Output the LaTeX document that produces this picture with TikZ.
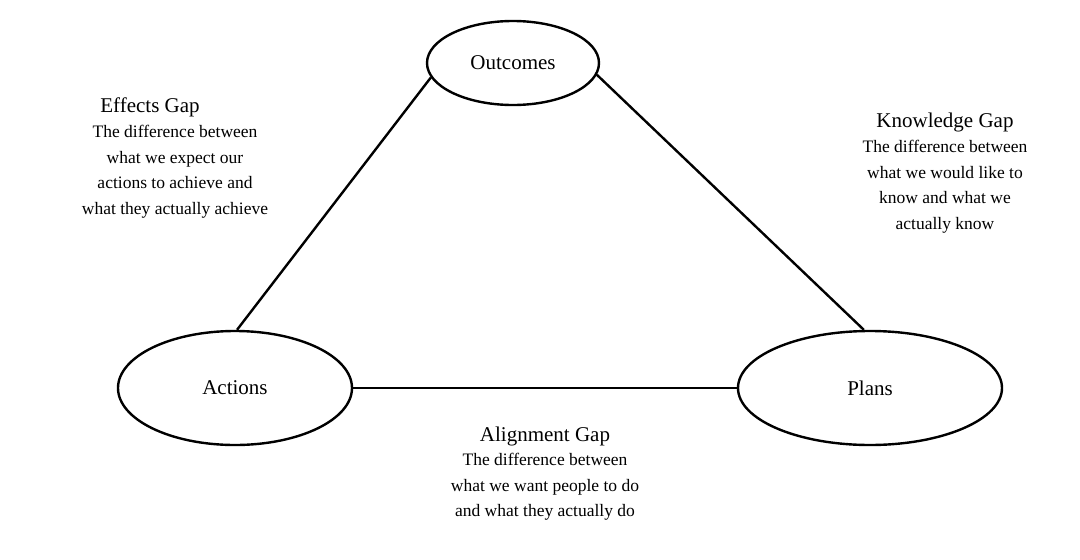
\documentclass[tikz,border=0pt]{standalone}
\usepackage{fontspec}
\setmainfont{Liberation Serif}
\usetikzlibrary{shapes.geometric}
\begin{document}
\begin{tikzpicture}[x=1pt,y=-1pt,
  oval/.style={draw,line width=2.4pt,ellipse,inner sep=0pt,font=\fontsize{21}{25}\selectfont},
  title/.style={font=\fontsize{21}{25}\selectfont,inner sep=0pt},
  body/.style={font=\fontsize{17.5}{25.5}\selectfont,align=center,inner sep=0pt},
  edge/.style={line width=2.4pt}]
\useasboundingbox (0,0) rectangle (1080,560);
\node[oval,minimum width=172pt,minimum height=84pt] (out) at (513,63) {Outcomes};
\node[oval,minimum width=234pt,minimum height=114pt] (act) at (235,388) {Actions};
\node[oval,minimum width=264pt,minimum height=114pt] (pla) at (870,388) {Plans};
\draw[edge] (out.190) -- (act.88);
\draw[edge] (out.-8) -- (pla.96);
\draw[edge] (act.east) -- (pla.west);
\node[title] (eg) at (150,107) {Effects Gap};
\node[body,anchor=north] (et) at (175,125) {The difference between\\what we expect our\\actions to achieve and\\what they actually achieve};
\node[title] (kg) at (945,122) {Knowledge Gap};
\node[body,anchor=north] (kt) at (945,140) {The difference between\\what we would like to\\know and what we\\actually know};
\node[title] (ag) at (545,436) {Alignment Gap};
\node[body,anchor=north] (at) at (545,453) {The difference between\\what we want people to do\\and what they actually do};
\end{tikzpicture}
\end{document}
